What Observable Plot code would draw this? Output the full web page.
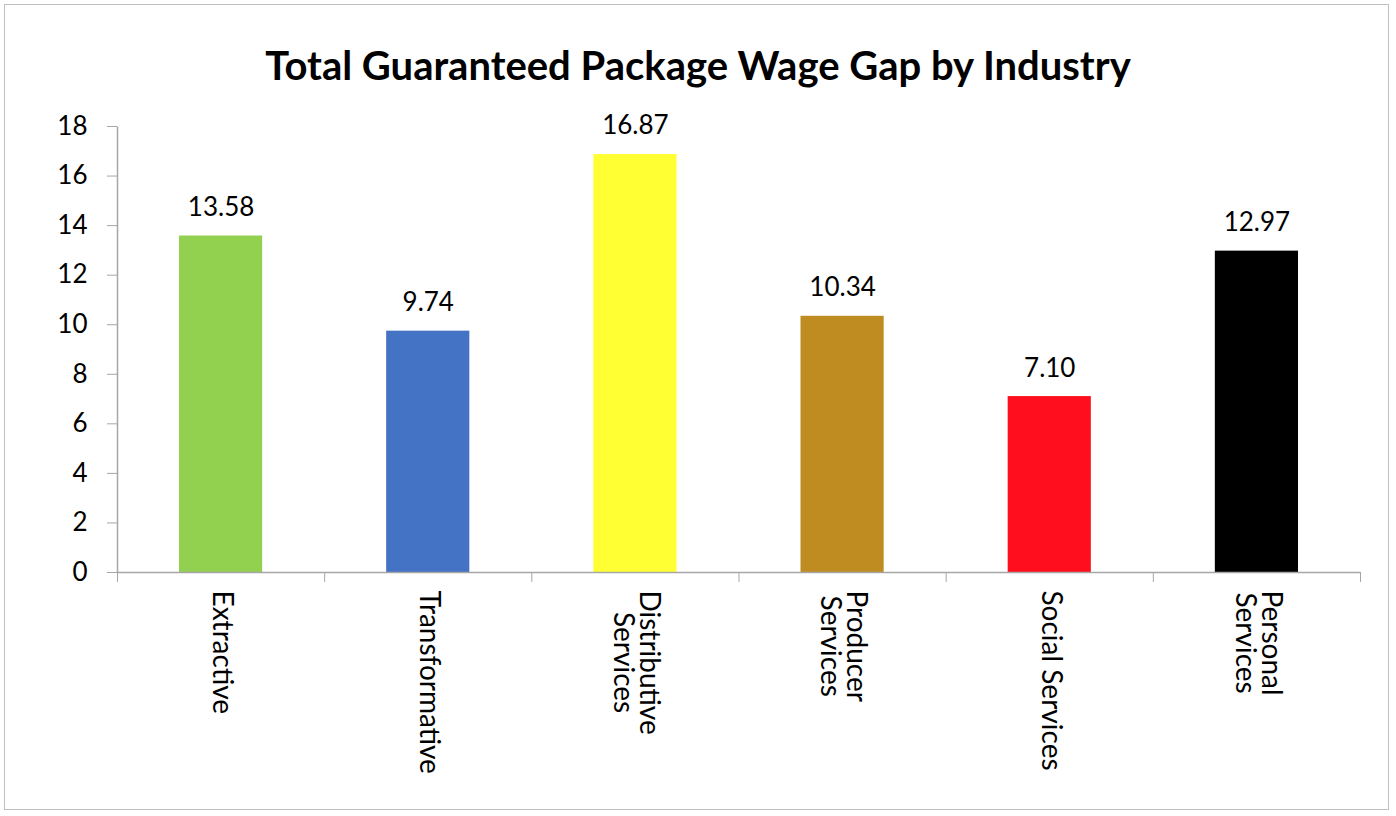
<!DOCTYPE html>
<html>
<head>
<meta charset="utf-8">
<script src="https://cdn.jsdelivr.net/npm/d3@7"></script>
<script src="https://cdn.jsdelivr.net/npm/@observablehq/plot@0.6"></script>
<style>
  html, body { margin: 0; padding: 0; background: #fff; }
  #wrap { position: relative; width: 1396px; height: 816px; overflow: hidden; font-family: Lato, sans-serif; }
  #border { position: absolute; left: 4px; top: 4px; width: 1383px; height: 804px; border: 1.5px solid #bfbfbf; }
  #title { position: absolute; left: 0; top: 38px; width: 1396px; text-align: center; font: bold 40px Lato, sans-serif; line-height: 54px; color: #000; }
  #chart { position: absolute; left: 0; top: 80px; }
</style>
</head>
<body>
<div id="wrap">
  <div id="border"></div>
  <div id="chart"></div>
  <div id="title">Total Guaranteed Package Wage Gap by Industry</div>
</div>
<script>
const categories = ["Extractive", "Transformative", "Distributive\nServices", "Producer\nServices", "Social Services", "Personal\nServices"];
const values = [13.58, 9.74, 16.87, 10.34, 7.10, 12.97];
const colors = ["#92D050", "#4472C4", "#FFFF33", "#BF8C22", "#FF0F1E", "#000000"];
const yTicks = [0, 2, 4, 6, 8, 10, 12, 14, 16, 18];

const W = 1396, H = 726;
const mL = 117, mR = 36, mT = 46, mB = 234;
const fw = W - mL - mR, fh = H - mT - mB;
const idx = d3.range(categories.length);
const bounds = d3.range(categories.length + 1);
const catFont = 28;

const ctx = document.createElement("canvas").getContext("2d");
ctx.font = `${catFont}px Lato`;
const blockLen = c => d3.max(c.split("\n"), s => ctx.measureText(s).width);

const labelMarks = categories.map((c, i) => Plot.text([c], {
  x: () => i + 0.5,
  frameAnchor: "bottom",
  text: d => d,
  rotate: 90,
  textAnchor: "middle",
  lineAnchor: "middle",
  fontSize: catFont,
  lineHeight: 0.92,
  fill: "#000",
  dy: 18 + blockLen(c) / 2
}));

const chart = Plot.plot({
  width: W, height: H,
  marginLeft: mL, marginRight: mR, marginTop: mT, marginBottom: mB,
  style: { fontFamily: "Lato, sans-serif", fontSize: "26px", color: "#000", background: "transparent", overflow: "visible" },
  x: { domain: [0, categories.length], axis: null },
  y: { domain: [0, 18], axis: null },
  color: { type: "identity" },
  marks: [
    Plot.rectY(idx, { x1: i => i, x2: i => i + 1, y: i => values[i], fill: i => colors[i], insetLeft: 62, insetRight: 62 }),
    Plot.frame({ stroke: "#a6a6a6", strokeWidth: 1.5, strokeDasharray: `0 ${fw + fh} ${fw + fh}` }),
    Plot.axisY({ ticks: yTicks, tickSize: 10, tickPadding: 20, stroke: "#a6a6a6", fill: "#000", fontSize: 26 }),
    Plot.axisX({ ticks: bounds, tickSize: 10, tickFormat: () => "", stroke: "#a6a6a6" }),
    Plot.text(idx, { x: i => i + 0.5, y: i => values[i], text: i => values[i].toFixed(2), lineAnchor: "bottom", dy: -20, fontSize: 26, fill: "#000" }),
    ...labelMarks
  ]
});
document.getElementById("chart").appendChild(chart);
</script>
</body>
</html>
